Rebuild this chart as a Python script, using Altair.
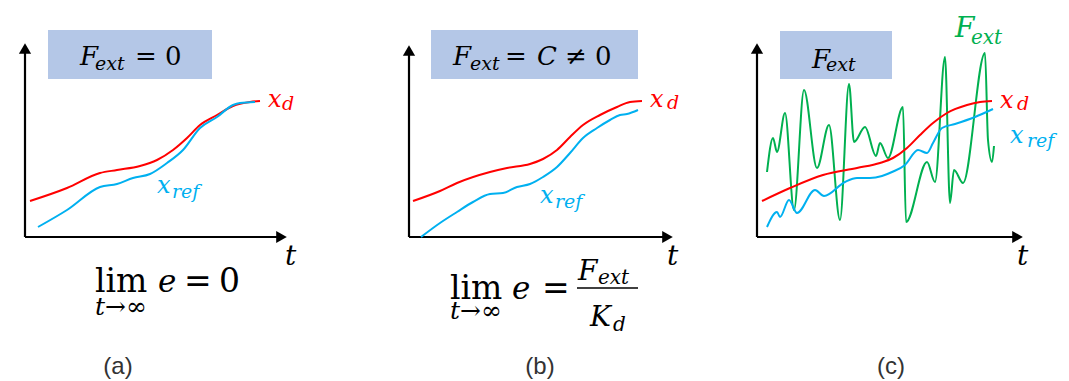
import altair as alt
import pandas as pd

RED = "#FF0000"
BLUE = "#00B0F0"
GREEN = "#00B050"
BOX = "#B4C7E7"
BLACK = "#000000"
MATH_FONT = "DejaVu Serif"
LABEL_FONT = "Liberation Sans"

# ---- curve data (t, value) in each panel's own units ----
a_red_t = [5, 42, 75, 92, 115, 132, 148, 162, 175, 192, 208, 225, 235]
a_red_x = [36, 49, 64, 67, 71, 77, 87, 99, 112, 122, 131, 135, 136]
a_blue_t = [13, 42, 75, 92, 108, 125, 142, 158, 175, 192, 208, 215, 230]
a_blue_x = [10, 27, 50, 53, 59, 63, 74, 87, 109, 120, 132, 134, 135]

b_red_t = [4, 31, 48, 81, 98, 121, 134, 148, 161, 174, 191, 208, 221, 233]
b_red_x = [36, 46, 54, 65, 69, 73, 78, 87, 100, 112, 122, 130, 135, 136]
b_blue_t = [12, 31, 48, 64, 81, 94, 108, 121, 134, 148, 161, 174, 188, 201, 211, 218, 229]
b_blue_x = [0, 14, 25, 35, 43, 44, 50, 53, 60, 70, 84, 99, 109, 117, 122, 123, 127]

c_red_t = [5, 33, 66, 100, 123, 136, 150, 163, 176, 190, 210, 223, 235]
c_red_x = [36, 49, 62, 69, 74, 79, 89, 102, 114, 124, 132, 135, 136]
c_blue_t = [10, 20, 23, 32, 40, 58, 67, 88, 100, 113, 125, 135, 148, 161, 170, 176, 185, 198, 218, 236]
c_blue_x = [10, 25, 20, 37, 24, 47, 41, 55, 59, 59, 61, 65, 72, 87, 84, 94, 109, 113, 120, 128]
c_green_t = [10, 16, 20, 28, 37, 47, 60, 72, 83, 92, 97, 108, 119, 123, 131, 146, 149, 170, 178,
             188, 193, 197, 206, 228, 231, 235, 237]
c_green_x = [65, 99, 85, 124, 27, 147, 69, 112, 17, 153, 95, 110, 81, 94, 79, 130, 15, 75, 55,
             180, 34, 67, 54, 184, 97, 75, 91]

# ---- text labels: (text, x, y, size, color, style) ----
a_texts = [
    ("F", 55, 172, 26, BLACK, "i"), ("ext", 70, 167, 19, BLACK, "i"), ("= 0", 110, 172, 26, BLACK, "n"),
    ("x", 243, 130, 24, RED, "i"), ("d", 257, 127, 19, RED, "i"),
    ("x", 132, 44, 24, BLUE, "i"), ("ref", 147, 39, 19, BLUE, "i"),
    ("t", 260, -28, 28, BLACK, "i"),
    ("lim", 70, -55, 33, BLACK, "n"), ("e", 133, -55, 31, BLACK, "i"),
    ("=", 159, -55, 33, BLACK, "n"), ("0", 194, -55, 33, BLACK, "n"),
    ("t", 70, -78, 25, BLACK, "i"), ("→∞", 80, -78, 25, BLACK, "n"),
]
b_texts = [
    ("F", 44, 172, 26, BLACK, "i"), ("ext", 61, 167, 19, BLACK, "i"), ("=", 96, 172, 26, BLACK, "n"),
    ("C", 128, 172, 26, BLACK, "i"), ("≠ 0", 156, 172, 26, BLACK, "n"),
    ("x", 241, 130, 24, RED, "i"), ("d", 258, 128, 19, RED, "i"),
    ("x", 131, 34, 24, BLUE, "i"), ("ref", 146, 29, 19, BLUE, "i"),
    ("t", 258, -28, 28, BLACK, "i"),
    ("lim", 41, -62, 33, BLACK, "n"), ("e", 103, -62, 31, BLACK, "i"), ("=", 133, -62, 33, BLACK, "n"),
    ("F", 169, -43, 28, BLACK, "i"), ("ext", 189, -47, 20, BLACK, "i"),
    ("K", 181, -89, 28, BLACK, "i"), ("d", 204, -94, 20, BLACK, "i"),
    ("t", 41, -82, 25, BLACK, "i"), ("→∞", 51, -82, 25, BLACK, "n"),
]
c_texts = [
    ("F", 55, 169, 26, BLACK, "i"), ("ext", 69, 166, 19, BLACK, "i"),
    ("F", 198, 200, 28, GREEN, "i"), ("ext", 214, 193, 20, GREEN, "i"),
    ("x", 243, 129, 24, RED, "i"), ("d", 260, 127, 19, RED, "i"),
    ("x", 253, 94, 24, BLUE, "i"), ("ref", 270, 90, 19, BLUE, "i"),
    ("t", 260, -28, 28, BLACK, "i"),
]

H = 365
Y_DOM = [-136, 229]


def make_panel(width, origin, series, texts, box, label, label_x, x_tip, y_tip, frac=None):
    xs = alt.Scale(domain=[-origin, width - origin], zero=False, nice=False)
    ys = alt.Scale(domain=Y_DOM, zero=False, nice=False)

    def X(f):
        return alt.X(f, type="quantitative", scale=xs, axis=None)

    def Y(f):
        return alt.Y(f, type="quantitative", scale=ys, axis=None)

    layers = []
    # box
    bdf = pd.DataFrame([{"x": box[0], "x2": box[1], "y": box[2], "y2": box[3]}])
    layers.append(alt.Chart(bdf).mark_rect(color=BOX).encode(
        x=X("x"), x2="x2", y=Y("y"), y2="y2"))
    # axes
    rules = [{"x": 0, "x2": 0, "y": 0, "y2": y_tip - 9},
             {"x": 0, "x2": x_tip - 9, "y": 0, "y2": 0}]
    layers.append(alt.Chart(pd.DataFrame(rules)).mark_rule(color=BLACK, strokeWidth=2.2).encode(
        x=X("x"), x2="x2", y=Y("y"), y2="y2"))
    heads = [{"x": 0, "y": y_tip - 5.5, "shape": "triangle-up"},
             {"x": x_tip - 5.5, "y": 0, "shape": "triangle-right"}]
    layers.append(alt.Chart(pd.DataFrame(heads)).mark_point(
        filled=True, color=BLACK, opacity=1, size=150).encode(
        x=X("x"), y=Y("y"), shape=alt.Shape("shape:N", scale=None)))
    if frac is not None:
        fdf = pd.DataFrame([{"x": frac[0], "x2": frac[1], "y": frac[2]}])
        layers.append(alt.Chart(fdf).mark_rule(color=BLACK, strokeWidth=1.5).encode(
            x=X("x"), x2="x2", y=Y("y")))
    # curves
    rows = []
    for name, ts, vs, color in series:
        for t, v in zip(ts, vs):
            rows.append({"series": name, "t": t, "v": v, "color": color})
    cdf = pd.DataFrame(rows)
    for name, _, _, _ in series:
        layers.append(alt.Chart(cdf[cdf.series == name]).mark_line(
            interpolate="monotone", strokeWidth=2).encode(
            x=X("t"), y=Y("v"), color=alt.Color("color:N", scale=None)))
    # texts
    tdf = pd.DataFrame(texts, columns=["text", "x", "y", "size", "color", "style"])
    for style, fs in (("n", "normal"), ("i", "italic")):
        sub = tdf[tdf["style"] == style]
        if len(sub):
            layers.append(alt.Chart(sub).mark_text(
                font=MATH_FONT, fontStyle=fs, align="left", baseline="alphabetic").encode(
                x=X("x"), y=Y("y"), text="text:N",
                size=alt.Size("size:Q", scale=None),
                color=alt.Color("color:N", scale=None)))
    ldf = pd.DataFrame([{"text": label, "x": label_x, "y": -129.5}])
    layers.append(alt.Chart(ldf).mark_text(
        font=LABEL_FONT, fontSize=24, align="center", baseline="middle", color="#333333").encode(
        x=X("x"), y=Y("y"), text="text:N"))
    return alt.layer(*layers).properties(width=width, height=H)


pa = make_panel(380, 17,
                [("xd", a_red_t, a_red_x, RED), ("xref", a_blue_t, a_blue_x, BLUE)],
                a_texts, (23, 187, 207, 158), "(a)", 93, 262, 194)
pb = make_panel(350, 21,
                [("xd", b_red_t, b_red_x, RED), ("xref", b_blue_t, b_blue_x, BLUE)],
                b_texts, (22, 229, 207, 158), "(b)", 131, 264, 192, frac=(168, 229, -51))
pc = make_panel(323, 19,
                [("fext", c_green_t, c_green_x, GREEN), ("xd", c_red_t, c_red_x, RED),
                 ("xref", c_blue_t, c_blue_x, BLUE)],
                c_texts, (23, 135, 206, 158), "(c)", 134, 266, 194)

chart = alt.hconcat(pa, pb, pc, spacing=0).properties(
    padding=0, bounds="flush", background="white"
).configure_view(stroke=None)

chart.save("out.html", embed_options={"renderer": "svg", "actions": False})
